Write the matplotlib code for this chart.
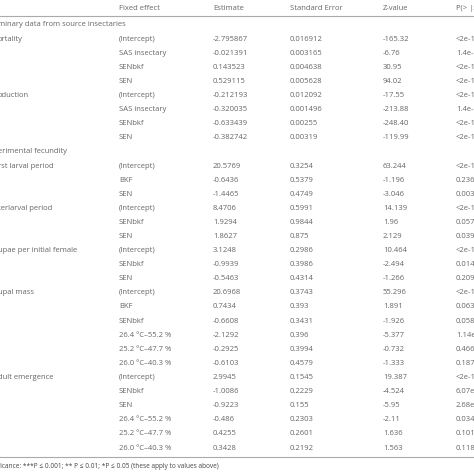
import matplotlib
matplotlib.use('Agg')
import matplotlib.pyplot as plt

plt.rcParams['font.family'] = ['Open Sans', 'DejaVu Sans']

W = H = 474
headers = ["", "Fixed effect", "Estimate", "Standard Error", "Z-value", "P(> |z|)"]
col_x = [-2, 119, 213, 290, 383, 456]

groups = ["minary data from source insectaries", "ortality", "", "", "",
          "oduction", "", "", "",
          "erimental fecundity",
          "rst larval period", "", "",
          "terlarval period", "", "",
          "upae per initial female", "", "",
          "upal mass", "", "", "", "", "",
          "dult emergence", "", "", "", "", ""]
effects = ["", "(Intercept)", "SAS insectary", "SENbkf", "SEN",
           "(Intercept)", "SAS insectary", "SENbkf", "SEN",
           "",
           "(Intercept)", "BKF", "SEN",
           "(Intercept)", "SENbkf", "SEN",
           "(Intercept)", "SENbkf", "SEN",
           "(Intercept)", "BKF", "SENbkf", "26.4 °C–55.2 %", "25.2 °C–47.7 %", "26.0 °C–40.3 %",
           "(Intercept)", "SENbkf", "SEN", "26.4 °C–55.2 %", "25.2 °C–47.7 %", "26.0 °C–40.3 %"]
estimates = ["", "-2.795867", "-0.021391", "0.143523", "0.529115",
             "-0.212193", "-0.320035", "-0.633439", "-0.382742", "",
             "20.5769", "-0.6436", "-1.4465",
             "8.4706", "1.9294", "1.8627",
             "3.1248", "-0.9939", "-0.5463",
             "20.6968", "0.7434", "-0.6608", "-2.1292", "-0.2925", "-0.6103",
             "2.9945", "-1.0086", "-0.9223", "-0.486", "0.4255", "0.3428"]
std_err = ["", "0.016912", "0.003165", "0.004638", "0.005628",
           "0.012092", "0.001496", "0.00255", "0.00319", "",
           "0.3254", "0.5379", "0.4749",
           "0.5991", "0.9844", "0.875",
           "0.2986", "0.3986", "0.4314",
           "0.3743", "0.393", "0.3431", "0.396", "0.3994", "0.4579",
           "0.1545", "0.2229", "0.155", "0.2303", "0.2601", "0.2192"]
z_values = ["", "-165.32", "-6.76", "30.95", "94.02",
            "-17.55", "-213.88", "-248.40", "-119.99", "",
            "63.244", "-1.196", "-3.046",
            "14.139", "1.96", "2.129",
            "10.464", "-2.494", "-1.266",
            "55.296", "1.891", "-1.926", "-5.377", "-0.732", "-1.333",
            "19.387", "-4.524", "-5.95", "-2.11", "1.636", "1.563"]
p_values = ["", "<2e-16", "1.4e-11", "<2e-16", "<2e-16",
            "<2e-16", "1.4e-11", "<2e-16", "<2e-16", "",
            "<2e-16", "0.2361", "0.0034",
            "<2e-16", "0.0572", "0.0396",
            "<2e-16", "0.0148", "0.2092",
            "<2e-16", "0.0631", "0.0585", "1.14e-07", "0.4666", "0.1873",
            "<2e-16", "6.07e-06", "2.68e-09", "0.0349", "0.1018", "0.118"]
footnote = "ficance: ***P ≤ 0.001; ** P ≤ 0.01; *P ≤ 0.05 (these apply to values above)"

fig = plt.figure(figsize=(W / 100, H / 100), dpi=100)
fig.patch.set_facecolor('white')
txt = dict(fontsize=5.5, color='#666666', va='center', ha='left')

def put(x, y, s):
    fig.text(x / W, 1 - y / H, s, **txt)

for x, h in zip(col_x, headers):
    put(x, 8, h)
fig.add_artist(plt.Line2D([0, 1], [1 - 16 / H] * 2, color='#aaaaaa', lw=0.8))

y0, dy = 25, 14.1
cols = [groups, effects, estimates, std_err, z_values, p_values]
for i in range(len(effects)):
    y = y0 + i * dy
    for x, col in zip(col_x, cols):
        if col[i]:
            put(x, y, col[i])

fig.add_artist(plt.Line2D([0, 1], [1 - 457 / H] * 2, color='#aaaaaa', lw=0.8))
fig.text(-2 / W, 1 - 466 / H, footnote, fontsize=4.7, color='#444444', va='center', ha='left')

fig.savefig('out.png', dpi=100)
